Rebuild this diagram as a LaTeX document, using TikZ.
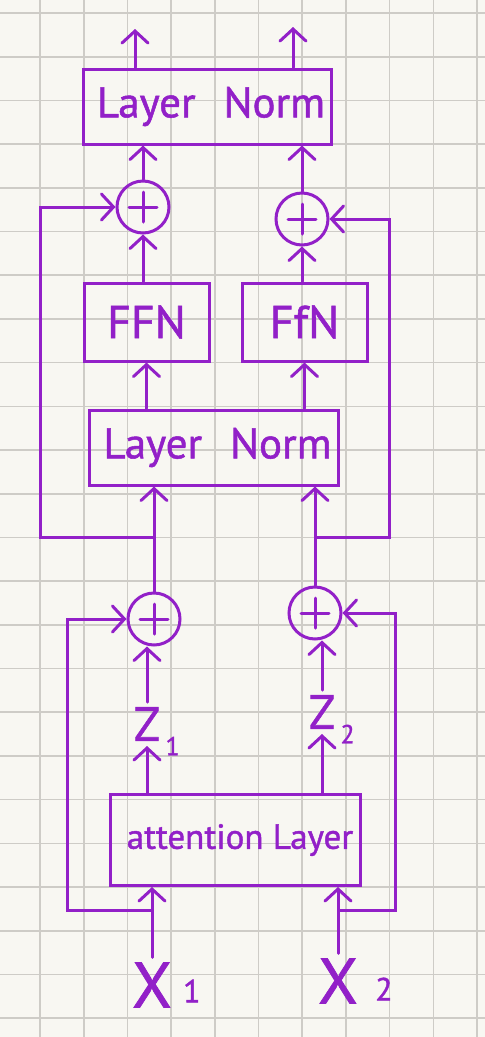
\documentclass[tikz,border=0pt]{standalone}
\usepackage{fontspec}
\setmainfont{PT Sans}[FakeBold=1.2]
\usetikzlibrary{arrows.meta,calc}
\definecolor{ink}{RGB}{146,32,200}
\definecolor{paper}{RGB}{248,247,242}
\definecolor{gridc}{RGB}{206,204,199}
\begin{document}
\begin{tikzpicture}[x=1pt,y=-1pt,
  box/.style={draw=ink,line width=3pt,text=ink,inner sep=0pt},
  plus/.style={circle,draw=ink,line width=3pt,minimum size=52pt,inner sep=0pt,
    path picture={\draw[ink,line width=3pt,line cap=round]
      ($(path picture bounding box.center)+(-14,0)$) -- ++(28,0)
      ($(path picture bounding box.center)+(0,-15)$) -- ++(0,30);}},
  arr/.style={draw=ink,line width=3pt,line cap=round,-{Straight Barb[length=12pt,width=26pt,line cap=round]}},
  loop/.style={draw=ink,line width=3pt,-{Straight Barb[length=12pt,width=26pt,line cap=round]}},
  lbl/.style={text=ink,inner sep=5pt},
  bold/.style={font=\bfseries}]
\fill[paper] (0,0) rectangle (485,1037);
\useasboundingbox (0,0) rectangle (485,1037);
\foreach \i in {0,...,10} \draw[gridc,line width=1.6pt] ({40+43.7*\i},0) -- ++(0,1037);
\foreach \j in {0,...,23} \draw[gridc,line width=1.6pt] (0,{13+43.7*\j}) -- ++(485,0);

% boxes
\node[box,minimum width=248pt,minimum height=75pt,font=\fontsize{43}{43}\selectfont] (ln1) at (207,106.5) {\hspace{8pt}Layer\hspace{28pt}Norm};
\node[box,minimum width=125pt,minimum height=78pt,font=\fontsize{46}{46}\selectfont] (ffn1) at (146.5,322) {FFN};
\node[box,minimum width=125pt,minimum height=78pt,font=\fontsize{46}{46}\selectfont] (ffn2) at (304.5,322) {FfN};
\node[box,minimum width=249pt,minimum height=75pt,font=\fontsize{43}{43}\selectfont] (ln2) at (213.5,447.5) {\hspace{8pt}Layer\hspace{28pt}Norm};
\node[box,minimum width=250pt,minimum height=91pt,font=\fontsize{35}{35}\selectfont] (att) at (235,840) {\hspace{10pt}attention Layer};

% adders
\node[plus] (o1) at (143,207) {};
\node[plus] (o2) at (302,219) {};
\node[plus] (p1) at (154,619) {};
\node[plus] (p2) at (315,613) {};

% labels
\node[lbl,font=\fontsize{48}{48}\selectfont,
  label={[text=ink,inner sep=0pt,font=\fontsize{26}{26}\selectfont,anchor=west]south east:1}] (z1) at (147,724) {Z};
\node[lbl,font=\fontsize{48}{48}\selectfont,
  label={[text=ink,inner sep=0pt,font=\fontsize{26}{26}\selectfont,anchor=west]south east:2}] (z2) at (322,712) {Z};
\node[lbl,font=\fontsize{64}{64}\selectfont,
  label={[text=ink,inner sep=0pt,font=\fontsize{32}{32}\selectfont,anchor=west,xshift=6pt,yshift=-6pt]east:1}] (x1) at (152,985) {X};
\node[lbl,font=\fontsize{64}{64}\selectfont,
  label={[text=ink,inner sep=0pt,font=\fontsize{32}{32}\selectfont,anchor=west,xshift=12pt,yshift=-8pt]east:2}] (x2) at (338,981) {X};

% free ends and loop corners
\coordinate (out1) at (135,29);
\coordinate (out2) at (293,27);
\coordinate (s1) at (40,537);
\coordinate (s2) at (389,537);
\coordinate (s3) at (67,910);
\coordinate (s4) at (395,910);

% connectors
\draw[arr] (out1 |- ln1.north) -- (out1);
\draw[arr] (out2 |- ln1.north) -- (out2);
\draw[arr] (o1.north) -- (o1.north |- ln1.south);
\draw[arr] (o2.north) -- (o2.north |- ln1.south);
\draw[arr] (o1.south |- ffn1.north) -- (o1.south);
\draw[arr] (o2.south |- ffn2.north) -- (o2.south);
\draw[arr] (ffn1.south |- ln2.north) -- (ffn1.south);
\draw[arr] (ffn2.south |- ln2.north) -- (ffn2.south);
\draw[arr] (p1.north) -- (p1.north |- ln2.south);
\draw[arr] (p2.north) -- (p2.north |- ln2.south);
\draw[loop] (s1 -| p1) -- (s1) |- (o1.west);
\draw[loop] (s2 -| p2) -- (s2) |- (o2.east);
\draw[arr] (z1.north) -- (z1.north |- p1.south);
\draw[arr] (z2.north) -- (z2.north |- p2.south);
\draw[arr] (z1.south |- att.north) -- (z1.south);
\draw[arr] (z2.south |- att.north) -- (z2.south);
\draw[arr] (x1.north) -- (x1.north |- att.south);
\draw[arr] (x2.north) -- (x2.north |- att.south);
\draw[loop] (s3 -| x1) -- (s3) |- (p1.west);
\draw[loop] (s4 -| x2) -- (s4) |- (p2.east);
\end{tikzpicture}
\end{document}
